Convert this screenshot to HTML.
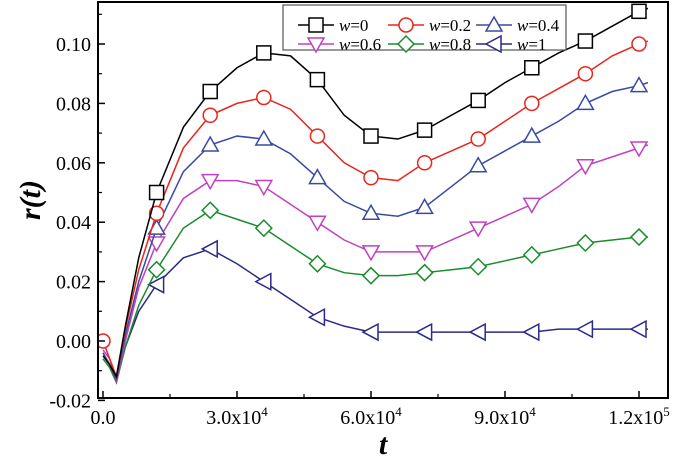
<!DOCTYPE html>
<html><head><meta charset="utf-8"><style>
body{margin:0;background:#fff;}
svg{display:block;font-family:"Liberation Serif",serif;}
</style></head><body>
<svg id="chart" width="675" height="458" viewBox="0 0 675 458"></svg>
<script>
const tVals=[0,1500,3000,5000,8000,12000,18000,24000,30000,36000,42000,48000,54000,60000,66000,72000,78000,84000,90000,96000,102000,108000,114000,120000,122000];
const w0=[-0.005,-0.008,-0.012,0.005,0.028,0.050,0.072,0.084,0.092,0.097,0.096,0.088,0.076,0.069,0.068,0.071,0.076,0.081,0.087,0.092,0.097,0.101,0.106,0.111,0.112];
const w02=[0.000,-0.006,-0.012,0.004,0.024,0.043,0.065,0.076,0.080,0.082,0.078,0.069,0.060,0.055,0.054,0.060,0.064,0.068,0.074,0.080,0.085,0.090,0.096,0.100,0.101];
const w04=[-0.004,-0.008,-0.013,0.002,0.020,0.038,0.057,0.066,0.069,0.068,0.063,0.055,0.047,0.043,0.042,0.045,0.052,0.059,0.064,0.069,0.074,0.080,0.084,0.086,0.087];
const w06=[-0.003,-0.006,-0.014,0.000,0.018,0.033,0.048,0.054,0.054,0.052,0.046,0.040,0.034,0.030,0.030,0.030,0.034,0.038,0.042,0.046,0.052,0.059,0.062,0.065,0.066];
const w08=[-0.006,-0.009,-0.014,-0.002,0.012,0.024,0.038,0.044,0.041,0.038,0.032,0.026,0.023,0.022,0.022,0.023,0.024,0.025,0.027,0.029,0.031,0.033,0.034,0.035,0.035];
const w1=[-0.004,-0.008,-0.013,-0.002,0.010,0.019,0.028,0.031,0.026,0.020,0.014,0.008,0.005,0.003,0.003,0.003,0.003,0.003,0.003,0.003,0.004,0.004,0.004,0.004,0.004];
const yTicks=[-0.02,0.00,0.02,0.04,0.06,0.08,0.10];
const yTickLabels=["-0.02","0.00","0.02","0.04","0.06","0.08","0.10"];
const xTicks=[0,30000,60000,90000,120000];
const xTickLabels=["0.0","3.0x10","6.0x10","9.0x10","1.2x10"];
const xTickExp=["","4","4","4","5"];
const markerIdx=[5,7,9,11,13,15,17,19,21,23];

const NS="http://www.w3.org/2000/svg";
const svg=document.getElementById('chart');
const X=t=>103+(t/30000)*134;
const Y=v=>341-(v/0.01)*29.7;
function el(tag,attrs,parent){const e=document.createElementNS(NS,tag);for(const k in attrs)e.setAttribute(k,attrs[k]);(parent||svg).appendChild(e);return e;}

function marker(shape,x,y,color,parent){
  const s=7;let e;
  if(shape==='square')e=el('rect',{x:x-s,y:y-s,width:2*s,height:2*s},parent);
  else if(shape==='circle')e=el('circle',{cx:x,cy:y,r:s},parent);
  else{let p;
    if(shape==='up')p=[[x,y-s-1],[x+s+1,y+s-1],[x-s-1,y+s-1]];
    else if(shape==='down')p=[[x,y+s+1],[x+s+1,y-s+1],[x-s-1,y-s+1]];
    else if(shape==='diamond')p=[[x,y-s-1],[x+s+1,y],[x,y+s+1],[x-s-1,y]];
    else p=[[x-s-1,y],[x+s,y-s-1],[x+s,y+s+1]];
    e=el('polygon',{points:p.map(a=>a.join(',')).join(' ')},parent);}
  e.setAttribute('fill','#fff');e.setAttribute('stroke',color);e.setAttribute('stroke-width','1.5');
  return e;
}

const series=[
 {name:'w0',data:w0,color:'#000',shape:'square',extra:[]},
 {name:'w02',data:w02,color:'#e8261b',shape:'circle',extra:[0]},
 {name:'w04',data:w04,color:'#3a4aa0',shape:'up',extra:[]},
 {name:'w06',data:w06,color:'#c040c0',shape:'down',extra:[]},
 {name:'w08',data:w08,color:'#1a8c2a',shape:'diamond',extra:[]},
 {name:'w1',data:w1,color:'#2a2a8a',shape:'left',extra:[]}
];
const clip=el('clipPath',{id:'pc'});el('rect',{x:98,y:2,width:570,height:396},clip);
series.slice().reverse().forEach(s=>{
  const g=el('g',{'clip-path':'url(#pc)'});
  
  
  const p=el('polyline',{points:s.data.map((v,i)=>X(tVals[i])+','+Y(v)).join(' '),fill:'none',stroke:s.color,'stroke-width':1.5},g);
  
  
  s.extra.concat(markerIdx).forEach(i=>{
    const m=marker(s.shape,X(tVals[i]),Y(s.data[i]),s.color,g);
    
    
  });
});

// frame
const frame=el('rect',{x:98,y:2,width:570,height:396,fill:'none',stroke:'#000','stroke-width':2});

yTicks.forEach((v,i)=>{
  el('line',{x1:98,x2:105,y1:Y(v),y2:Y(v),stroke:'#000','stroke-width':1.5});
  el('line',{x1:98,x2:102,y1:Y(v+0.01),y2:Y(v+0.01),stroke:'#000','stroke-width':1.2});
  const t=el('text',{x:91,y:Y(v)+7,'text-anchor':'end','font-size':20});
  t.textContent=yTickLabels[i];
  
});
xTicks.forEach((v,i)=>{
  el('line',{x1:X(v),x2:X(v),y1:398,y2:391,stroke:'#000','stroke-width':1.5});
  el('line',{x1:X(v+15000),x2:X(v+15000),y1:398,y2:394,stroke:'#000','stroke-width':1.2});
  const t=el('text',{x:X(v)+(i?0:0),y:424,'text-anchor':'middle','font-size':20});
  t.textContent=xTickLabels[i];
  if(xTickExp[i]){const ts=el('tspan',{'font-size':13,dy:-8},t);ts.textContent=xTickExp[i];}
  
});
const yl=el('text',{x:0,y:0,transform:'translate(40,200) rotate(-90)','text-anchor':'middle','font-size':30,'font-style':'italic','font-weight':'bold'});
yl.textContent='r(t)';
const xl=el('text',{x:383,y:454,'text-anchor':'middle','font-size':30,'font-style':'italic','font-weight':'bold'});
xl.textContent='t';

// legend
const lg=el('g',{});

el('rect',{x:283,y:5,width:283,height:45,fill:'#fff',stroke:'#555','stroke-width':1.2},lg);
const labels=['w','w','w','w','w','w'];const vals=['=0','=0.2','=0.4','=0.6','=0.8','=1'];
series.forEach((s,i)=>{
  const col=i%3,row=Math.floor(i/3);
  const lx=[300,390,478][col],ly=[25,44][row];
  const e=el('g',{},lg);
  
  el('line',{x1:lx-2,x2:lx+34,y1:ly,y2:ly,stroke:s.color,'stroke-width':1.5},e);
  marker(s.shape,lx+16,ly,s.color,e);
  const t=el('text',{x:lx+39,y:ly+6,'font-size':17},e);
  const a=el('tspan',{'font-style':'italic'},t);a.textContent=labels[i];
  const b=el('tspan',{},t);b.textContent=vals[i];
});
</script>
</body></html>
